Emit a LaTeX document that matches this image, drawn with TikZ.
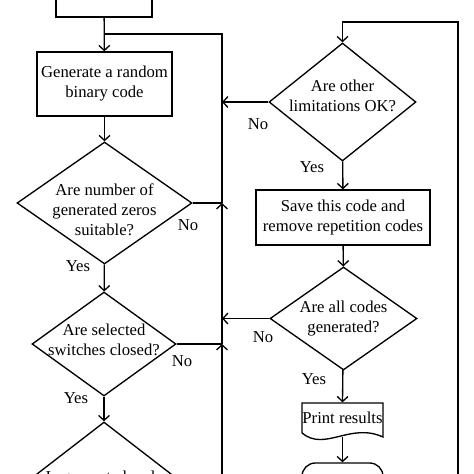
\documentclass[tikz,border=0pt]{standalone}
\usepackage{fontspec}
\setmainfont{Liberation Serif}
\usetikzlibrary{arrows.meta,shapes.geometric}

\begin{document}
\begin{tikzpicture}[x=0.6pt,y=-0.6pt,line width=0.8pt,
		>={Straight Barb[length=3pt,width=6.5pt]},
		box/.style={draw,rectangle,inner sep=0pt,align=center},
		dia/.style={draw,diamond,inner sep=0pt},
		txt/.style={align=center,inner sep=0pt},
		lbl/.style={inner sep=0pt}]
		\useasboundingbox (0,0) rectangle (474,474);
		\clip (0,0) rectangle (474,474);

		% left column
		\node[box,minimum width=57.6pt,minimum height=32.4pt] (start) at (104,-10) {};
		\node[box,minimum width=81pt,minimum height=38.4pt] (gen) at (104.5,84) {Generate a random\\binary code};
		\node[dia,minimum width=105pt,minimum height=73.2pt] (zeros) at (104.5,203) {};
		\node[txt] (zerost) at (104.5,210) {Are number of\\generated zeros\\suitable?};
		\node[dia,minimum width=86.4pt,minimum height=62.4pt] (sw) at (104,344) {};
		\node[txt] (swt) at (104,340) {Are selected\\switches closed?};
		\node[dia,minimum width=97.8pt,minimum height=75.6pt] (gc) at (104,485) {};
		\node[txt,anchor=north] (gct) at (104,470) {Is generated code};

		% right column
		\node[dia,minimum width=88.2pt,minimum height=70.8pt] (lim) at (342.5,102) {};
		\node[txt] (limt) at (342.5,96) {Are other\\limitations OK?};
		\node[box,minimum width=104.4pt,minimum height=33pt] (save) at (343,217.5) {Save this code and\\remove repetition codes};
		\node[dia,minimum width=88.2pt,minimum height=61.8pt] (all) at (343.5,318.5) {};
		\node[txt] (allt) at (343.5,319) {Are all codes\\generated?};
		\node[inner sep=0pt,minimum width=48.6pt,minimum height=18pt] (prt) at (342.5,418) {Print results};
		\draw (302,433) -- (302,403) -- (383,403) -- (383,437) .. controls (350,422) and (325,452) .. (302,433);
		\coordinate (prtb) at (342.5,437);
		\node[box,rounded corners=8pt,minimum width=48.6pt,minimum height=21.6pt] (stop) at (342.5,481) {};

		% labels
		\node[lbl] (n1) at (188,225) {No};
		\node[lbl] (y1) at (78,266) {Yes};
		\node[lbl] (n2) at (182,361) {No};
		\node[lbl] (y2) at (76,398) {Yes};
		\node[lbl] (n4) at (258,124) {No};
		\node[lbl] (y4) at (312,167) {Yes};
		\node[lbl] (n5) at (263,337) {No};
		\node[lbl] (y5) at (314,379) {Yes};

		% return lines
		\coordinate (lb) at (222,474);
		\coordinate (rb) at (458,474);
		\coordinate (rt) at (458,22);
		\coordinate (lt) at (222,34);

		% flow
		\draw[->] (start) -- (gen);
		\draw[->] (gen) -- (zeros);
		\draw[->] (zeros) -- (sw);
		\draw[->] (sw) -- (gc);
		\draw (zeros.east) -- (zeros.east -| lt);
		\draw (sw.east) -- (sw.east -| lt);
		\draw[->] (lb) -- (sw.east -| lt);
		\draw[->] (sw.east -| lt) -- (zeros.east -| lt);
		\draw (zeros.east -| lt) -- (lt) -- (gen.north |- lt);
		\draw[->] (lim.west) -- (lim.west -| lt);
		\draw[->] (all.west) -- (all.west -| lt);
		\draw[->] (rb) -- (rt) -- (lim.north |- rt) -- (lim.north);
		\draw[->] (lim) -- (save);
		\draw[->] (save) -- (all);
		\draw[->] (all) -- (prt.north);
		\draw[->] (prtb) -- (stop);
	\end{tikzpicture}
\end{document}
